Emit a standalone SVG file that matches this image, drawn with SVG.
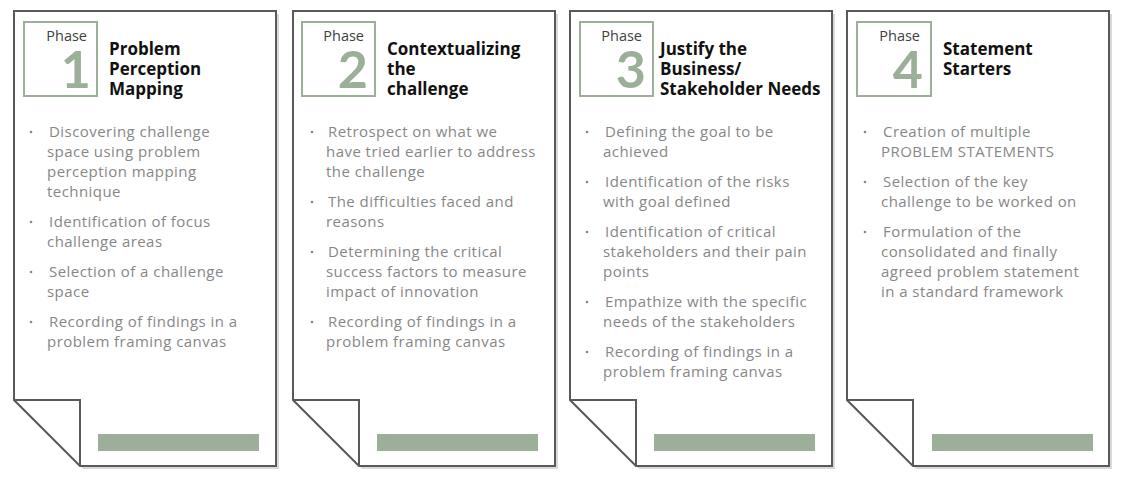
<svg xmlns="http://www.w3.org/2000/svg" width="1132" height="482" viewBox="0 0 1132 482">
<style>
.shadow{fill:#d9d9d9;stroke:none}
.card{fill:#ffffff;stroke:#595959;stroke-width:2;stroke-linejoin:miter}
.fold{fill:none;stroke:#595959;stroke-width:2}
.pbox{fill:none;stroke:#9caf98;stroke-width:2}
.bar{fill:#9caf98}
.phase{font-family:"Open Sans","Liberation Sans",sans-serif;font-size:14.5px;fill:#404040;text-anchor:end}
.num{font-family:Lato,"Liberation Sans",sans-serif;font-weight:bold;font-size:52px;fill:#9caf98;text-anchor:end}
.title{font-family:"Open Sans","Liberation Sans",sans-serif;font-weight:bold;font-size:17px;fill:#111111}
.body{font-family:"Open Sans","Liberation Sans",sans-serif;font-size:15px;letter-spacing:0.45px;fill:#878787}
.dot{fill:#878787}
</style>
<defs>
<path id="sheet" d="M0,0 H262 V455 H66 L0,389 Z"/>
<path id="foldp" d="M0,389 H66 V455"/>
</defs>
<g id="phase1" transform="translate(14,11)">
<use href="#sheet" class="shadow" x="3" y="3"/>
<use href="#sheet" class="card"/>
<use href="#foldp" class="fold"/>
<rect class="pbox" x="10" y="11" width="73" height="74"/>
<text class="phase" x="73" y="30">Phase</text>
<text class="num" x="77" y="77">1</text>
<text class="title" x="95"><tspan x="95" y="44">Problem</tspan><tspan x="95" y="64">Perception</tspan><tspan x="95" y="84">Mapping</tspan></text>
<g class="body">
<text x="35" y="126">Discovering challenge</text>
<text x="33" y="146">space using problem</text>
<text x="33" y="166">perception mapping</text>
<text x="33" y="186">technique</text>
<text x="35" y="216">Identification of focus</text>
<text x="33" y="236">challenge areas</text>
<text x="35" y="266">Selection of a challenge</text>
<text x="33" y="286">space</text>
<text x="35" y="316">Recording of findings in a</text>
<text x="33" y="336">problem framing canvas</text>
</g>
<circle class="dot" cx="17" cy="121" r="1.3"/><circle class="dot" cx="17" cy="211" r="1.3"/><circle class="dot" cx="17" cy="261" r="1.3"/><circle class="dot" cx="17" cy="311" r="1.3"/>
<rect class="bar" x="84" y="423" width="161" height="17"/>
</g>
<g id="phase2" transform="translate(293,11)">
<use href="#sheet" class="shadow" x="3" y="3"/>
<use href="#sheet" class="card"/>
<use href="#foldp" class="fold"/>
<rect class="pbox" x="9" y="11" width="73" height="74"/>
<text class="phase" x="71" y="30">Phase</text>
<text class="num" x="75" y="77">2</text>
<text class="title" x="94"><tspan x="94" y="44">Contextualizing</tspan><tspan x="94" y="64">the</tspan><tspan x="94" y="84">challenge</tspan></text>
<g class="body">
<text x="35" y="126">Retrospect on what we</text>
<text x="33" y="146">have tried earlier to address</text>
<text x="33" y="166">the challenge</text>
<text x="35" y="196">The difficulties faced and</text>
<text x="33" y="216">reasons</text>
<text x="35" y="246">Determining the critical</text>
<text x="33" y="266">success factors to measure</text>
<text x="33" y="286">impact of innovation</text>
<text x="35" y="316">Recording of findings in a</text>
<text x="33" y="336">problem framing canvas</text>
</g>
<circle class="dot" cx="19" cy="121" r="1.3"/><circle class="dot" cx="19" cy="191" r="1.3"/><circle class="dot" cx="19" cy="241" r="1.3"/><circle class="dot" cx="19" cy="311" r="1.3"/>
<rect class="bar" x="84" y="423" width="161" height="17"/>
</g>
<g id="phase3" transform="translate(570,11)">
<use href="#sheet" class="shadow" x="3" y="3"/>
<use href="#sheet" class="card"/>
<use href="#foldp" class="fold"/>
<rect class="pbox" x="10" y="11" width="73" height="74"/>
<text class="phase" x="72" y="30">Phase</text>
<text class="num" x="76" y="77">3</text>
<text class="title" x="90"><tspan x="90" y="44">Justify the</tspan><tspan x="90" y="64">Business/</tspan><tspan x="90" y="84">Stakeholder Needs</tspan></text>
<g class="body">
<text x="35" y="126">Defining the goal to be</text>
<text x="33" y="146">achieved</text>
<text x="35" y="176">Identification of the risks</text>
<text x="33" y="196">with goal defined</text>
<text x="35" y="226">Identification of critical</text>
<text x="33" y="246">stakeholders and their pain</text>
<text x="33" y="266">points</text>
<text x="35" y="296">Empathize with the specific</text>
<text x="33" y="316">needs of the stakeholders</text>
<text x="35" y="346">Recording of findings in a</text>
<text x="33" y="366">problem framing canvas</text>
</g>
<circle class="dot" cx="17" cy="121" r="1.3"/><circle class="dot" cx="17" cy="171" r="1.3"/><circle class="dot" cx="17" cy="221" r="1.3"/><circle class="dot" cx="17" cy="291" r="1.3"/><circle class="dot" cx="17" cy="341" r="1.3"/>
<rect class="bar" x="84" y="423" width="161" height="17"/>
</g>
<g id="phase4" transform="translate(847,11)">
<use href="#sheet" class="shadow" x="3" y="3"/>
<use href="#sheet" class="card"/>
<use href="#foldp" class="fold"/>
<rect class="pbox" x="10" y="11" width="74" height="74"/>
<text class="phase" x="73" y="30">Phase</text>
<text class="num" x="76" y="77">4</text>
<text class="title" x="96"><tspan x="96" y="44">Statement</tspan><tspan x="96" y="64">Starters</tspan></text>
<g class="body">
<text x="36" y="126">Creation of multiple</text>
<text x="34" y="146">PROBLEM STATEMENTS</text>
<text x="36" y="176">Selection of the key</text>
<text x="34" y="196">challenge to be worked on</text>
<text x="36" y="226">Formulation of the</text>
<text x="34" y="246">consolidated and finally</text>
<text x="34" y="266">agreed problem statement</text>
<text x="34" y="286">in a standard framework</text>
</g>
<circle class="dot" cx="18" cy="121" r="1.3"/><circle class="dot" cx="18" cy="171" r="1.3"/><circle class="dot" cx="18" cy="221" r="1.3"/>
<rect class="bar" x="85" y="423" width="161" height="17"/>
</g>
<g id="connectors"></g>
</svg>
